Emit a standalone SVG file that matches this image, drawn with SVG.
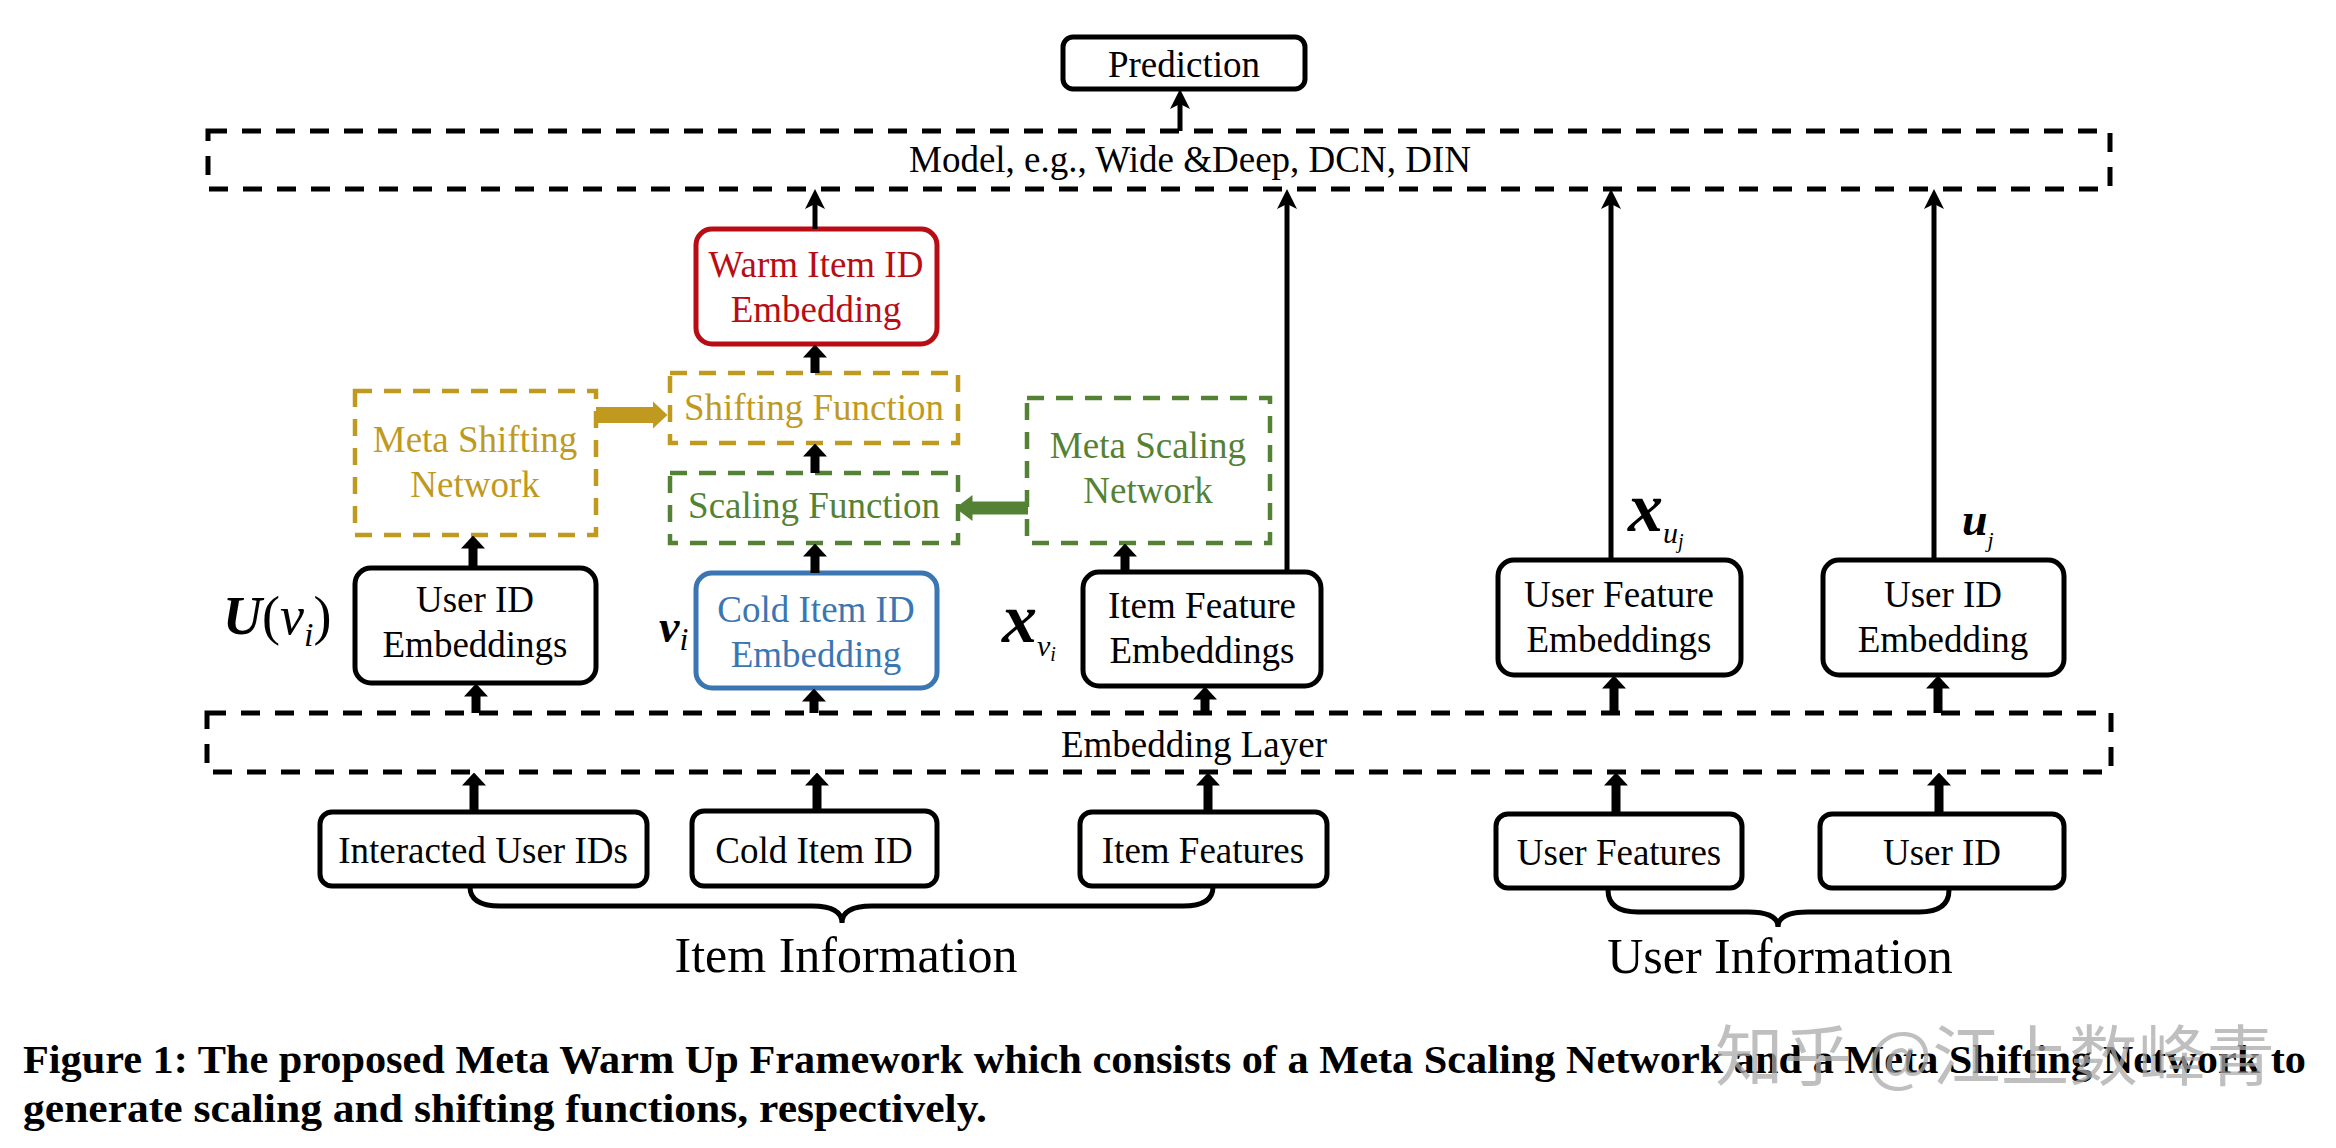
<svg xmlns="http://www.w3.org/2000/svg" width="2336" height="1148" viewBox="0 0 2336 1148">
<style>
.t{font-family:"Liberation Serif","Times New Roman",serif;font-size:37px;text-anchor:middle;fill:#000}
.box{fill:#fff;stroke:#000;stroke-width:5}
.dash{fill:none;stroke:#000;stroke-width:5;stroke-dasharray:19 15}
.gold{fill:none;stroke:#C09A1E;stroke-width:4.5;stroke-dasharray:17 12}
.green{fill:none;stroke:#548235;stroke-width:4.5;stroke-dasharray:17 12}
.thin{stroke:#000;stroke-width:5;fill:none;marker-end:url(#mthin)}
.thick{stroke:#000;stroke-width:9;fill:none;marker-end:url(#mthick)}
.m{font-family:"Liberation Serif","Times New Roman",serif;fill:#000}
.brace{fill:none;stroke:#000;stroke-width:5}
</style>
<defs>
<marker id="mthin" markerUnits="userSpaceOnUse" viewBox="0 0 20 20" markerWidth="20" markerHeight="20" refX="14" refY="10" orient="auto"><path d="M0,0 L20,10 L0,20 L5,10 z" fill="#000"/></marker>
<marker id="mthick" markerUnits="userSpaceOnUse" viewBox="0 0 13 24" markerWidth="13" markerHeight="24" refX="0.5" refY="12" orient="auto"><path d="M0,0 L13,12 L0,24 z" fill="#000"/></marker>
<marker id="mgold" markerUnits="userSpaceOnUse" viewBox="0 0 15 28" markerWidth="15" markerHeight="28" refX="0.5" refY="14" orient="auto"><path d="M0,0 L15,14 L0,28 z" fill="#C09A1E"/></marker>
<marker id="mgreen" markerUnits="userSpaceOnUse" viewBox="0 0 17 26" markerWidth="17" markerHeight="26" refX="0.5" refY="13" orient="auto"><path d="M0,0 L17,13 L0,26 z" fill="#548235"/></marker>
</defs>
<rect width="2336" height="1148" fill="#fff"/>

<g id="prediction"><rect class="box" x="1063" y="37" width="242" height="52" rx="10"/><text class="t" x="1184" y="77">Prediction</text></g>
<g id="model"><rect class="dash" x="208" y="131" width="1902" height="58"/><text class="t" x="1190" y="172">Model, e.g., Wide &amp;Deep, DCN, DIN</text></g>
<g id="warm"><rect x="696" y="229" width="241" height="115" rx="16" fill="#fff" stroke="#B80D14" stroke-width="5"/><text class="t" x="816" y="277" fill="#B80D14" style="fill:#B80D14">Warm Item ID</text><text class="t" x="816" y="322" style="fill:#B80D14">Embedding</text></g>
<g id="shifting"><rect class="gold" x="670" y="373" width="288" height="70"/><text class="t" x="814" y="420" style="fill:#C09A1E">Shifting Function</text></g>
<g id="metashift"><rect class="gold" x="355" y="391" width="241" height="144"/><text class="t" x="475" y="452" style="fill:#C09A1E">Meta Shifting</text><text class="t" x="475" y="497" style="fill:#C09A1E">Network</text></g>
<g id="scaling"><rect class="green" x="670" y="473" width="288" height="70"/><text class="t" x="814" y="518" style="fill:#548235">Scaling Function</text></g>
<g id="metascale"><rect class="green" x="1027" y="398" width="243" height="145"/><text class="t" x="1148" y="458" style="fill:#548235">Meta Scaling</text><text class="t" x="1148" y="503" style="fill:#548235">Network</text></g>
<g id="useridembs"><rect class="box" x="355" y="568" width="241" height="115" rx="16"/><text class="t" x="475" y="612">User ID</text><text class="t" x="475" y="657">Embeddings</text></g>
<g id="cold"><rect x="696" y="573" width="241" height="115" rx="16" fill="#fff" stroke="#3A76B2" stroke-width="5"/><text class="t" x="816" y="622" style="fill:#3A76B2">Cold Item ID</text><text class="t" x="816" y="667" style="fill:#3A76B2">Embedding</text></g>
<g id="itemfeatemb"><rect class="box" x="1083" y="572" width="238" height="114" rx="16"/><text class="t" x="1202" y="618">Item Feature</text><text class="t" x="1202" y="663">Embeddings</text></g>
<g id="userfeatemb"><rect class="box" x="1498" y="560" width="243" height="115" rx="16"/><text class="t" x="1619" y="607">User Feature</text><text class="t" x="1619" y="652">Embeddings</text></g>
<g id="useridemb"><rect class="box" x="1823" y="560" width="241" height="115" rx="16"/><text class="t" x="1943" y="607">User ID</text><text class="t" x="1943" y="652">Embedding</text></g>
<g id="emblayer"><rect class="dash" x="207" y="713" width="1904" height="59"/><text class="t" x="1194" y="757">Embedding Layer</text></g>
<g id="interacted"><rect class="box" x="320" y="812" width="327" height="74" rx="12"/><text class="t" x="483" y="863">Interacted User IDs</text></g>
<g id="colditemid"><rect class="box" x="692" y="811" width="245" height="75" rx="12"/><text class="t" x="814" y="863">Cold Item ID</text></g>
<g id="itemfeatures"><rect class="box" x="1080" y="812" width="247" height="74" rx="12"/><text class="t" x="1203" y="863">Item Features</text></g>
<g id="userfeatures"><rect class="box" x="1496" y="814" width="246" height="74" rx="12"/><text class="t" x="1619" y="865">User Features</text></g>
<g id="userid"><rect class="box" x="1820" y="814" width="244" height="74" rx="12"/><text class="t" x="1942" y="865">User ID</text></g>

<g id="labels">
<text class="m" x="223" y="634" font-size="54"><tspan font-weight="bold" font-style="italic">U</tspan><tspan>(</tspan><tspan font-style="italic">v</tspan><tspan font-style="italic" font-size="34" dy="12">i</tspan><tspan dy="-12">)</tspan></text>
<text class="m" x="659" y="642" font-size="46"><tspan font-weight="bold" font-style="italic">v</tspan><tspan font-style="italic" font-size="32" dy="8">i</tspan></text>
<text class="m" x="1002" y="642" font-size="70"><tspan font-weight="bold" font-style="italic">x</tspan><tspan font-style="italic" font-size="30" dy="14">v</tspan><tspan font-style="italic" font-size="20" dy="5">i</tspan></text>
<text class="m" x="1628" y="531" font-size="70"><tspan font-weight="bold" font-style="italic">x</tspan><tspan font-style="italic" font-size="30" dy="12">u</tspan><tspan font-style="italic" font-size="20" dy="5">j</tspan></text>
<text class="m" x="1962" y="535" font-size="46"><tspan font-weight="bold" font-style="italic">u</tspan><tspan font-style="italic" font-size="22" dy="12">j</tspan></text>
<text class="t" x="846" y="972" font-size="50" style="font-size:50px">Item Information</text>
<text class="t" x="1780" y="973" style="font-size:50px">User Information</text>
</g>

<g id="connectors">
<line class="thin" x1="1180" y1="131" x2="1180" y2="95"/>
<line class="thin" x1="815" y1="229" x2="815" y2="195"/>
<line class="thin" x1="1287" y1="572" x2="1287" y2="195"/>
<line class="thin" x1="1611" y1="560" x2="1611" y2="195"/>
<line class="thin" x1="1934" y1="560" x2="1934" y2="195"/>
<line class="thick" x1="815" y1="373" x2="815" y2="357"/>
<line class="thick" x1="815" y1="473" x2="815" y2="456"/>
<line class="thick" x1="473" y1="568" x2="473" y2="548"/>
<line class="thick" x1="815" y1="573" x2="815" y2="556"/>
<line class="thick" x1="1125" y1="572" x2="1125" y2="556"/>
<line class="thick" x1="476" y1="713" x2="476" y2="696"/>
<line class="thick" x1="814" y1="713" x2="814" y2="701"/>
<line class="thick" x1="1205" y1="713" x2="1205" y2="699"/>
<line class="thick" x1="1614" y1="713" x2="1614" y2="688"/>
<line class="thick" x1="1938" y1="713" x2="1938" y2="688"/>
<line class="thick" x1="474" y1="812" x2="474" y2="785"/>
<line class="thick" x1="817" y1="811" x2="817" y2="785"/>
<line class="thick" x1="1208" y1="812" x2="1208" y2="785"/>
<line class="thick" x1="1616" y1="814" x2="1616" y2="785"/>
<line class="thick" x1="1939" y1="814" x2="1939" y2="785"/>
<line x1="596" y1="415" x2="653" y2="415" stroke="#C09A1E" stroke-width="16" marker-end="url(#mgold)"/>
<line x1="1028" y1="508" x2="972" y2="508" stroke="#548235" stroke-width="13" marker-end="url(#mgreen)"/>
<path class="brace" d="M470,887 Q470,906 500,906 L812,906 Q842,906 842,923 Q842,906 872,906 L1183,906 Q1213,906 1213,887"/>
<path class="brace" d="M1608,890 Q1608,912 1638,912 L1748,912 Q1778,912 1778,927 Q1778,912 1808,912 L1919,912 Q1949,912 1949,890"/>
</g>

<g id="caption">
<text x="23" y="1073" font-family="Liberation Serif, serif" font-weight="bold" font-size="40" textLength="2283" lengthAdjust="spacingAndGlyphs">Figure 1: The proposed Meta Warm Up Framework which consists of a Meta Scaling Network and a Meta Shifting Network to</text>
<text x="23" y="1122" font-family="Liberation Serif, serif" font-weight="bold" font-size="40" textLength="964" lengthAdjust="spacingAndGlyphs">generate scaling and shifting functions, respectively.</text>
<text x="1715" y="1080" font-family="Noto Sans CJK SC, sans-serif" font-size="66" fill="#aaaaaa" fill-opacity="0.75" textLength="560" lengthAdjust="spacingAndGlyphs">知乎 @江上数峰青</text>
</g>
</svg>
